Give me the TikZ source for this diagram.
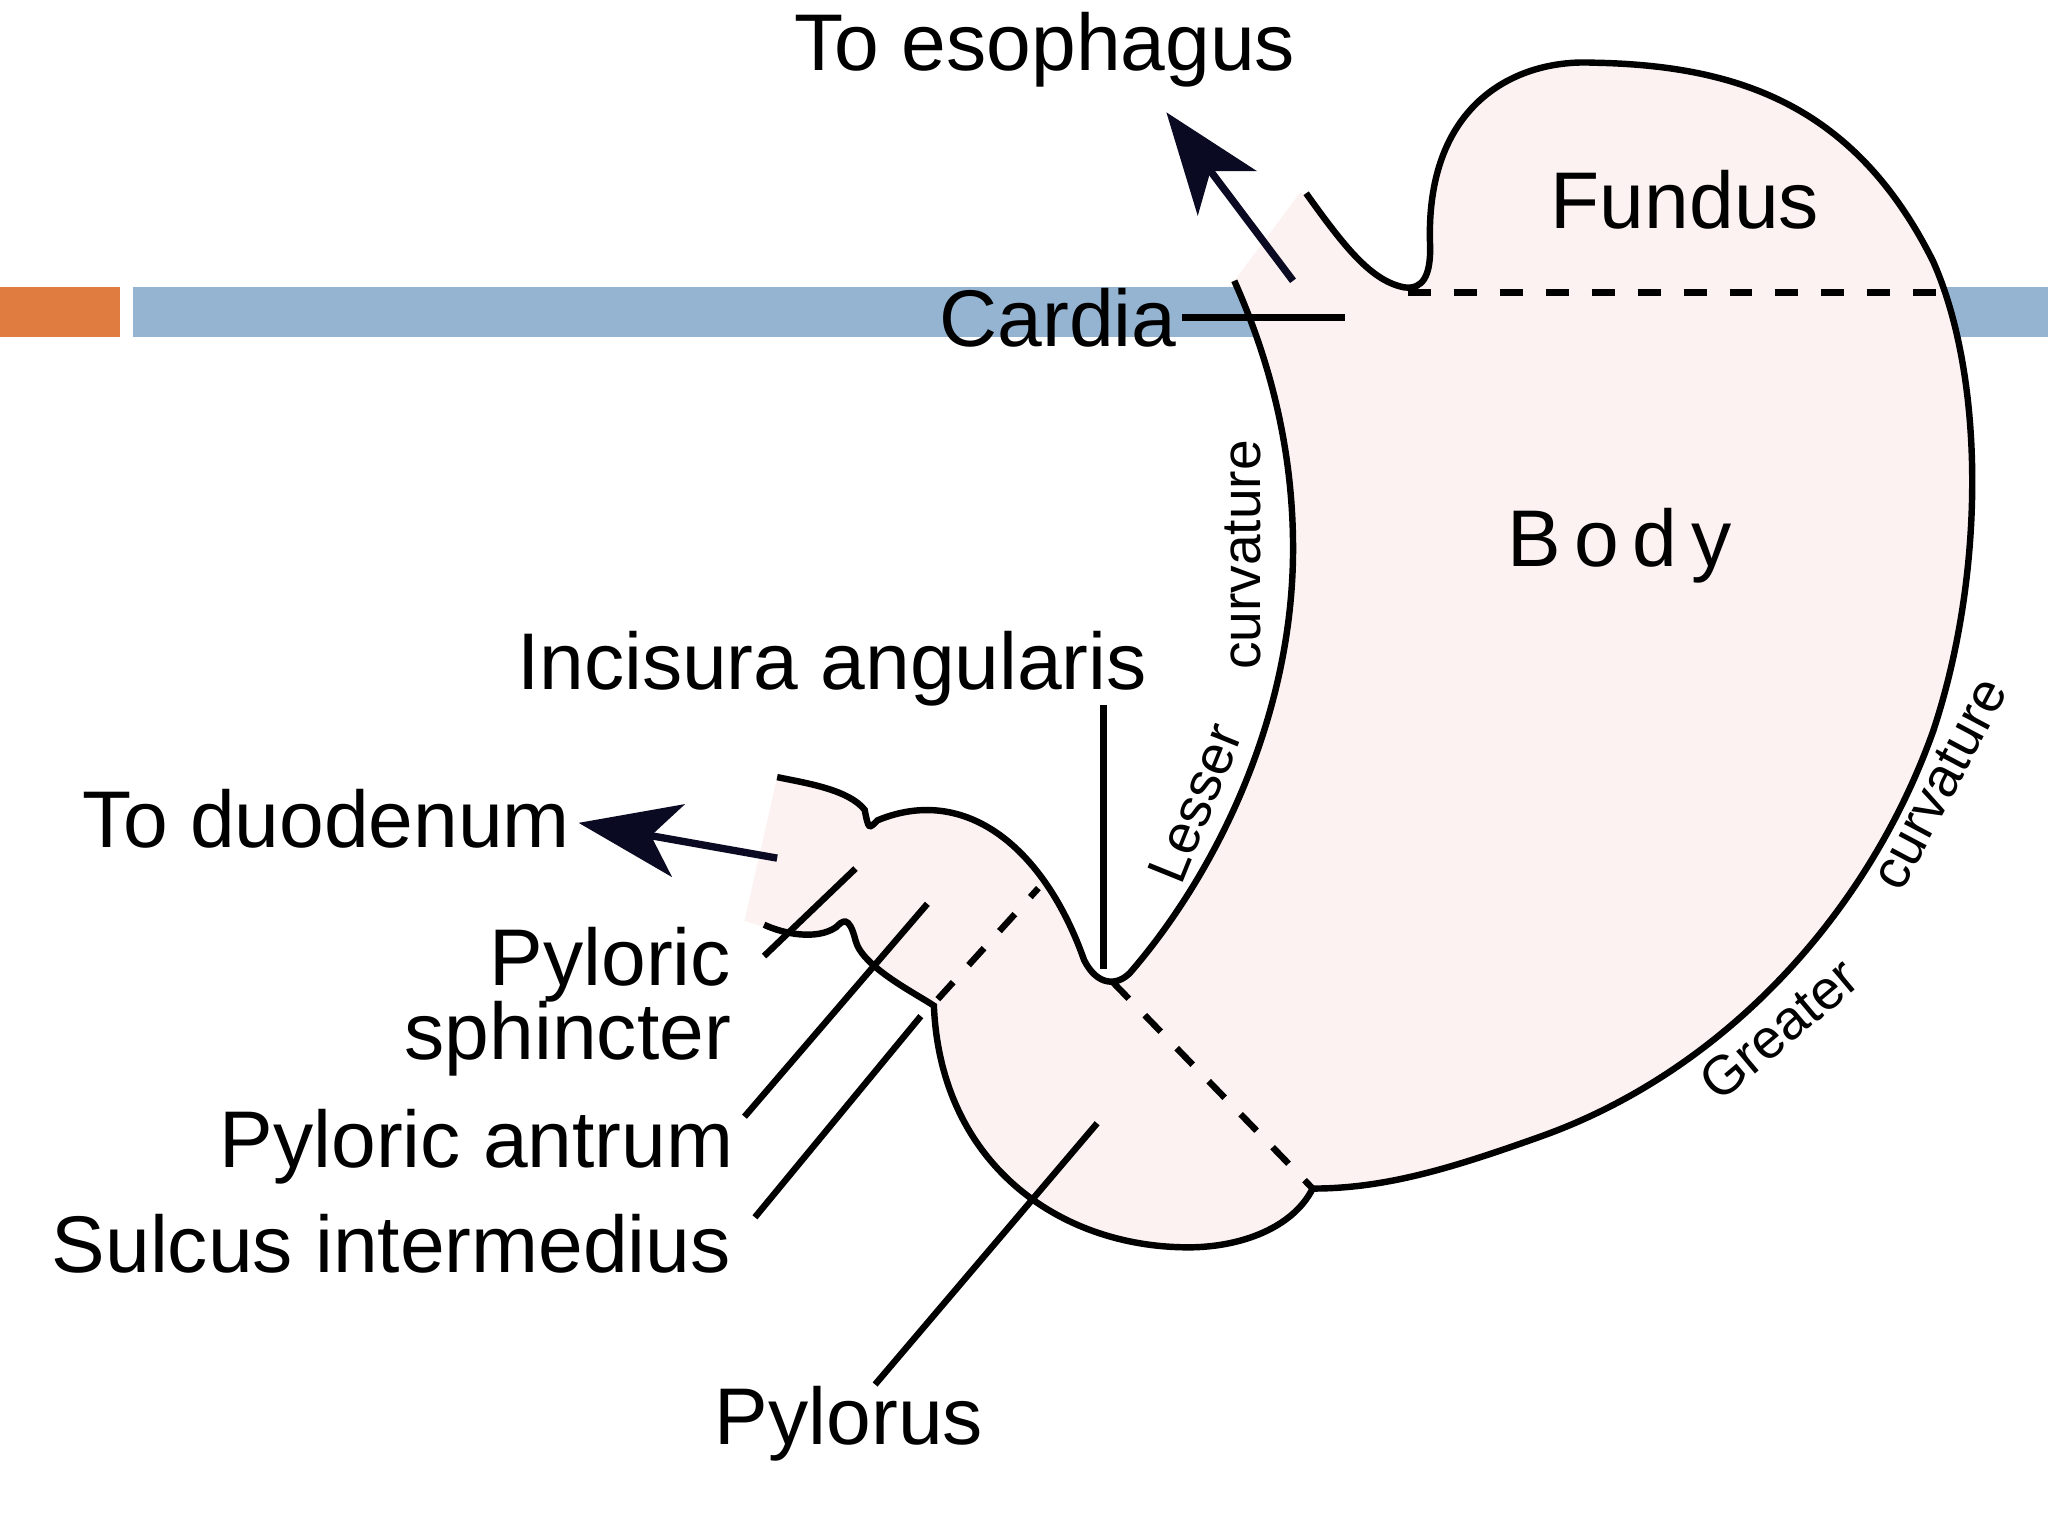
\documentclass[tikz,border=0pt]{standalone}
\usepackage{fontspec}
\setmainfont{Liberation Sans}
\usetikzlibrary{arrows.meta}
\begin{document}
\begin{tikzpicture}[x=0.01cm,y=-0.01cm,
  lbl/.style={font=\fontsize{17.5}{20}\selectfont},
  sml/.style={font=\fontsize{12}{14}\selectfont},
  ln/.style={line width=1.4pt},
  dsh/.style={line width=1.4pt,dash pattern=on 5pt off 5pt},
  arr/.style={line width=1.6pt,color={rgb,255:red,10;green,10;blue,35},-{Stealth[length=22pt,width=16pt,inset=6pt]}}]
\useasboundingbox (0,0) rectangle (1568,1176);
\fill[white] (0,0) rectangle (1568,1176);
\fill[color={rgb,255:red,224;green,124;blue,64}] (0,220) rectangle (92,258);
\fill[color={rgb,255:red,148;green,180;blue,210}] (102,220) rectangle (1568,258);
% stomach fill
\fill[color={rgb,255:red,253;green,242;blue,242}]
 (1000,148) .. controls (1030,190) and (1050,215) .. (1075,220)
 .. controls (1090,222) and (1095,210) .. (1095,190)
 .. controls (1090,80) and (1160,45) .. (1220,48)
 .. controls (1330,50) and (1420,80) .. (1480,200)
 .. controls (1520,290) and (1520,440) .. (1480,560)
 .. controls (1430,700) and (1320,820) .. (1180,870)
 .. controls (1110,895) and (1060,910) .. (1005,910)
 .. controls (990,940) and (950,955) .. (910,955)
 .. controls (810,955) and (720,890) .. (715,770)
 .. controls (700,760) and (660,740) .. (655,720)
 .. controls (650,700) and (645,705) .. (640,710)
 .. controls (625,720) and (600,715) .. (570,705)
 -- (595,595)
 .. controls (620,600) and (650,605) .. (662,620)
 .. controls (665,635) and (665,635) .. (672,628)
 .. controls (740,600) and (800,650) .. (830,735)
 .. controls (840,755) and (855,755) .. (865,745)
 .. controls (930,670) and (990,550) .. (990,420)
 .. controls (990,330) and (965,260) .. (945,215)
 -- (995,148) -- cycle;
% strokes
\draw[ln] (1000,148) .. controls (1030,190) and (1050,215) .. (1075,220)
 .. controls (1090,222) and (1095,210) .. (1095,190)
 .. controls (1090,80) and (1160,45) .. (1220,48)
 .. controls (1330,50) and (1420,80) .. (1480,200)
 .. controls (1520,290) and (1520,440) .. (1480,560)
 .. controls (1430,700) and (1320,820) .. (1180,870)
 .. controls (1110,895) and (1060,910) .. (1005,910)
 .. controls (990,940) and (950,955) .. (910,955)
 .. controls (810,955) and (720,890) .. (715,770)
 .. controls (700,760) and (660,740) .. (655,720)
 .. controls (650,700) and (645,705) .. (640,710)
 .. controls (625,720) and (600,715) .. (585,708);
\draw[ln] (595,595) .. controls (620,600) and (650,605) .. (662,620)
 .. controls (665,635) and (665,635) .. (672,628)
 .. controls (740,600) and (800,650) .. (830,735)
 .. controls (840,755) and (855,755) .. (865,745)
 .. controls (930,670) and (990,550) .. (990,420)
 .. controls (990,330) and (965,260) .. (945,215);
% dashed
\draw[dsh] (1078,224) -- (1490,224);
\draw[dsh] (718,765) -- (795,680);
\draw[dsh] (852,752) -- (1005,910);
% arrows
\coordinate (e0) at (990,215); \coordinate (e1) at (893,86);
\draw[arr] (e0) -- (e1);
\coordinate (d0) at (595,657); \coordinate (d1) at (443,630);
\draw[arr] (d0) -- (d1);
% labels
\node[lbl] (eso) at (800,38) {To esophagus};
\node[lbl] (fun) at (1290,153) {Fundus};
\node[lbl] (body) at (1240,418) {B\,o\,d\,y};
\node[lbl,anchor=east,inner sep=1pt] (car) at (905,243) {Cardia};
\coordinate (carE) at (1030,243);
\draw[ln] (car.east) -- (carE);
\node[sml,rotate=90] (lc1) at (952,425) {curvature};
\node[sml,rotate=68] (lc2) at (915,615) {Lesser};
\node[sml,rotate=62] (gc1) at (1485,600) {curvature};
\node[sml,rotate=40] (gc2) at (1362,788) {Greater};
\node[lbl] (inc) at (637,512) {Incisura angularis};
\coordinate (i0) at (845,540); \coordinate (i1) at (845,742);
\draw[ln] (i0) -- (i1);
\node[lbl] (duo) at (250,627) {To duodenum};
\node[lbl,align=right,anchor=east] (ps) at (572,767) {Pyloric\\[-4pt]sphincter};
\coordinate (p0) at (585,732); \coordinate (p1) at (655,665);
\draw[ln] (p0) -- (p1);
\node[lbl,anchor=east] (pa) at (574,878) {Pyloric antrum};
\coordinate (a0) at (570,855); \coordinate (a1) at (710,692);
\draw[ln] (a0) -- (a1);
\node[lbl,anchor=east] (si) at (572,952) {Sulcus intermedius};
\coordinate (s0) at (578,932); \coordinate (s1) at (705,778);
\draw[ln] (s0) -- (s1);
\node[lbl] (pyl) at (650,1090) {Pylorus};
\coordinate (y0) at (670,1060); \coordinate (y1) at (840,860);
\draw[ln] (y0) -- (y1);
\end{tikzpicture}
\end{document}
